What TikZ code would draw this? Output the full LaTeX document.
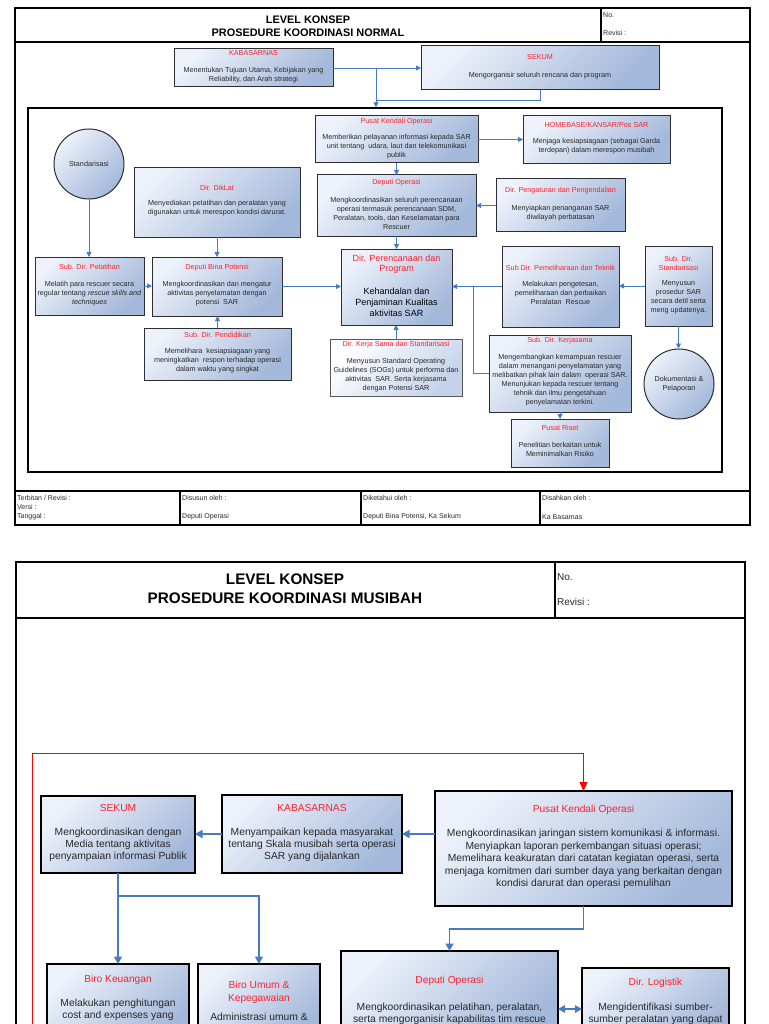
\documentclass[tikz,border=0pt]{standalone}
\usepackage{fontspec}
\setmainfont{Liberation Sans}
\usetikzlibrary{arrows.meta,calc}
\definecolor{boxL}{RGB}{236,241,250}
\definecolor{boxR}{RGB}{163,184,218}
\definecolor{boxline}{RGB}{45,45,50}
\definecolor{arrblue}{RGB}{72,122,196}
\definecolor{titred}{RGB}{250,35,45}
\definecolor{orng}{RGB}{255,153,0}
\definecolor{txt}{RGB}{40,40,40}
\newcommand{\fsz}[2]{\fontsize{#1}{#2}\selectfont}
% \mkbox[options]{name}{x1}{y1}{x2}{y2}
\newcommand{\mkbox}[6][]{\node[box,#1,minimum width={#5-#3},minimum height={#6-#4}] (#2) at ({(#3+#5)/2},{(#4+#6)/2}) {};}
\tikzset{
  frame/.style={draw=black, line width=1.6pt},
  frametwo/.style={draw=black, line width=2pt},
  box/.style={draw=boxline, line width=1pt, top color=boxL, bottom color=boxR, shading angle=45, inner sep=0pt, outer sep=0pt, rectangle},
  lightbox/.style={draw=boxline!80, line width=0.7pt, top color=white, bottom color={rgb,255:red,196;green,210;blue,234}, shading angle=45},
  orangebox/.style={fill=orng, draw=boxline, line width=1pt},
  boxtwo/.style={draw=black, line width=2pt},
  circ/.style={circle, draw=boxline, line width=1pt, top color=boxL, bottom color=boxR, shading angle=45, minimum size=70pt, inner sep=0pt, align=center, font=\fsz{7.2}{9}, text=txt},
  ttl/.style={text=titred, font=\fsz{7.2}{9}, align=center, inner sep=0pt},
  bod/.style={text=txt, font=\fsz{7.2}{9}, align=center, inner sep=0pt},
  ttltwo/.style={text=titred, font=\fsz{10.2}{13}, align=center, inner sep=0pt},
  bodtwo/.style={text=txt, font=\fsz{10.3}{12}, align=center, inner sep=0pt},
  head/.style={font=\bfseries\fsz{10.9}{13}, inner sep=0pt},
  headtwo/.style={font=\bfseries\fsz{15.3}{19}, inner sep=0pt},
  small/.style={font=\fsz{7}{9}, text=txt, inner sep=0pt, anchor=west},
  ln/.style={draw=arrblue, line width=0.9pt},
  ar/.style={ln, -{Triangle[length=5pt,width=5pt]}},
  lntwo/.style={draw=arrblue, line width=1.4pt},
  artwo/.style={lntwo, -{Triangle[length=7.5pt,width=8pt]}},
  dartwo/.style={lntwo, {Triangle[length=7pt,width=7.5pt]}-{Triangle[length=7pt,width=7.5pt]}},
  redar/.style={draw=red, line width=1pt, -{Triangle[length=9pt,width=8pt]}}
}
\begin{document}
\begin{tikzpicture}[x=1pt,y=-1pt]
\useasboundingbox (0,0) rectangle (768,1024);
\clip (0,0) rectangle (768,1024);
\fill[white] (0,0) rectangle (768,1024);

% ================= TOP PAGE =================
\draw[frame] (15,8) rectangle (750,525);
\draw[frame] (15,42) -- (750,42);
\draw[frame] (601,8) -- (601,42);
\draw[frame] (15,491) -- (750,491);
\draw[frame] (180,491) -- (180,525);
\draw[frame] (361,491) -- (361,525);
\draw[frame] (540,491) -- (540,525);

\node[head] (h1a) at (308,19.5) {LEVEL KONSEP};
\node[head] (h1b) at (308,32.5) {PROSEDURE KOORDINASI NORMAL};
\node[small] (no1) at (603,15) {No.};
\node[small] (rev1) at (603,33.5) {Revisi :};

\node[small] (f1a) at (17,498) {Terbitan / Revisi :};
\node[small] (f1b) at (17,507) {Versi :};
\node[small] (f1c) at (17,517) {Tanggal :};
\node[small] (f2a) at (182,498) {Disusun oleh :};
\node[small] (f2b) at (182,517) {Deputi Operasi};
\node[small] (f3a) at (363,498) {Diketahui oleh :};
\node[small] (f3b) at (363,517) {Deputi Bina Potensi, Ka Sekum};
\node[small] (f4a) at (542,498) {Disahkan oleh :};
\node[small] (f4b) at (542,517) {Ka Basarnas};

\node[draw=black, line width=1.4pt, minimum width=694pt, minimum height=364pt, inner sep=0pt] (inner) at (375,290) {};

% boxes
\mkbox{kab}{174}{49}{333}{87}
\node[ttl] (kabT) at (253.5,53.5) {KABASARNAS};
\node[bod] (kabB) at (253.5,75.5) {Menentukan Tujuan Utama, Kebijakan yang\\Reliability, dan Arah strategi};

\mkbox{sek}{421}{46}{659}{90}
\node[ttl] (sekT) at (540,57) {SEKUM};
\node[bod] (sekB) at (540,76) {Mengorganisir seluruh rencana dan program};

\mkbox{pko}{315}{116}{478}{163}
\node[ttl] (pkoT) at (396.5,121.5) {Pusat Kendali Operasi};
\node[bod] (pkoB) at (396.5,146.5) {Memberikan pelayanan informasi kepada SAR\\unit tentang\ \ udara, laut dan telekomunikasi\\publik};

\mkbox{hb}{523}{116}{670}{164}
\node[ttl] (hbT) at (596.5,125) {HOMEBASE/KANSAR/Pos SAR};
\node[bod] (hbB) at (596.5,146.5) {Menjaga kesiapsiagaan (sebagai Garda\\terdepan) dalam merespon musibah};

\mkbox{dop}{317}{175}{476}{236}
\node[ttl] (dopT) at (396.5,183) {Deputi Operasi};
\node[bod] (dopB) at (396.5,213.5) {Mengkoordinasikan seluruh perencanaan\\operasi termasuk perencanaan SDM,\\Peralatan, tools, dan Keselamatan para\\Rescuer};

\mkbox{dpp}{496}{179}{625}{232}
\node[ttl] (dppT) at (560.5,191) {Dir. Pengaturan dan Pengendalian};
\node[bod] (dppB) at (560.5,213) {Menyiapkan penanganan SAR\\diwilayah perbatasan};

\mkbox[orangebox]{dpr}{341}{249}{452}{325}
\node[ttl, font=\fsz{9}{10.5}] (dprT) at (396.5,264) {Dir. Perencanaan dan\\Program};
\node[bod, font=\fsz{9}{11}, text=black] (dprB) at (396.5,302) {Kehandalan dan\\Penjaminan Kualitas\\aktivitas SAR};

\mkbox[lightbox]{dks}{330}{339}{462}{396}
\node[ttl] (dksT) at (396,345) {Dir. Kerja Sama dan Standarisasi};
\node[bod] (dksB) at (396,375.5) {Menyusun Standard Operating\\Guidelines (SOGs) untuk performa dan\\aktivitas\ \ SAR. Serta kerjasama\\dengan Potensi SAR};

\node[circ] (std) at (89,164) {Standarisasi};

\mkbox{dik}{134}{168}{300}{237}
\node[ttl] (dikT) at (217,188) {Dir. DikLat};
\node[bod] (dikB) at (217,208.5) {Menyediakan pelatihan dan peralatan yang\\digunakan untuk merespon kondisi darurat.};

\mkbox{pel}{35}{257}{144}{315}
\node[ttl] (pelT) at (89.5,267) {Sub. Dir. Pelatihan};
\node[bod] (pelB) at (89.5,294) {Melatih para rescuer secara\\regular tentang \textit{rescue skills and}\\\textit{techniques}};

\mkbox{bp}{152}{257}{282}{316}
\node[ttl] (bpT) at (217,268) {Deputi Bina Potensi};
\node[bod] (bpB) at (217,293.5) {Mengkoordinasikan dan mengatur\\aktivitas penyelamatan dengan\\potensi\ \ SAR};

\mkbox{pdd}{144}{328}{291}{380}
\node[ttl] (pddT) at (217.5,335) {Sub. Dir. Pendidikan};
\node[bod] (pddB) at (217.5,361) {Memelihara\ \ kesiapsiagaan yang\\meningkatkan\ \ respon terhadap operasi\\dalam waktu yang singkat};

\mkbox{pem}{502}{246}{619}{327}
\node[ttl] (pemT) at (560.5,268) {Sub Dir. Pemeliharaan dan Teknik};
\node[bod] (pemB) at (560.5,293) {Melakukan pengetesan,\\pemeliharaan dan perbaikan\\Peralatan\ \ Rescue};

\mkbox{sds}{645}{246}{712}{326}
\node[ttl] (sdsT) at (678.5,263.5) {Sub. Dir.\\Standarisasi};
\node[bod] (sdsB) at (678.5,297.5) {Menyusun\\prosedur SAR\\secara detil serta\\meng updatenya.};

\mkbox{ksm}{489}{335}{631}{412}
\node[ttl] (ksmT) at (560,341) {Sub. Dir. Kerjasama};
\node[bod] (ksmB) at (560,380.5) {Mengembangkan kemampuan rescuer\\dalam menangani penyelamatan yang\\melibatkan pihak lain dalam\ \ operasi SAR.\\Menunjukan kepada rescuer tentang\\tehnik dan ilmu pengetahuan\\penyelamatan terkini.};

\mkbox{ris}{511}{419}{609}{467}
\node[ttl] (risT) at (560,428) {Pusat Riset};
\node[bod] (risB) at (560,449.5) {Penelitian berkaitan untuk\\Meminimalkan Risiko};

\node[circ] (dok) at (679,384) {Dokumentasi \&\\Pelaporan};

% connectors top
\coordinate (j1) at (376,68);
\coordinate (j3) at (376,100);
\coordinate (kj) at (473,287);
\draw[ar] (kab.east) -- (sek.west);
\draw[ar] (j1) -- (j1 |- inner.north);
\draw[ln] (sek.south) |- (j3);
\draw[ar] (pko.east) -- (pko.east -| hb.west);
\draw[ar] (pko.south) -- (dop.north);
\draw[ar] (dpp.west) -- (dpp.west -| dop.east);
\draw[ar] (dop.south) -- (dpr.north);
\draw[ar] (dks.north) -- (dks.north |- dpr.south);
\draw[ar] (std.south) -- (std.south |- pel.north);
\draw[ar] (pel.east) -- (pel.east -| bp.west);
\draw[ar] (dik.south) -- (bp.north);
\draw[ar] (pdd.north) -- (pdd.north |- bp.south);
\draw[ar] (bp.east) -- (bp.east -| dpr.west);
\draw[ar] (sds.west) -- (sds.west -| pem.east);
\draw[ar] (pem.west) -- (pem.west -| dpr.east);
\draw[ln] (ksm.west) -| (kj);
\draw[ar] (ksm.south) -- (ris.north);
\draw[ar] (sds.south) -- (sds.south |- dok.north);

% ================= BOTTOM PAGE =================
\draw[frametwo] (16,1040) -- (16,562) -- (745,562) -- (745,1040);
\draw[frametwo] (16,618) -- (745,618);
\draw[frametwo] (555,562) -- (555,618);
\node[headtwo] (h2a) at (285,579) {LEVEL KONSEP};
\node[headtwo] (h2b) at (285,598) {PROSEDURE KOORDINASI MUSIBAH};
\node[small, font=\fsz{10}{12}] (no2) at (557,577) {No.};
\node[small, font=\fsz{10}{12}] (rev2) at (557,602) {Revisi :};

\mkbox[boxtwo]{sekb}{41}{796}{195}{873}
\node[ttltwo] (sekbT) at (118,808) {SEKUM};
\node[bodtwo] (sekbB) at (118,845) {Mengkoordinasikan dengan\\Media tentang aktivitas\\penyampaian informasi Publik};

\mkbox[boxtwo]{kabb}{222}{795}{402}{873}
\node[ttltwo] (kabbT) at (312,808) {KABASARNAS};
\node[bodtwo] (kabbB) at (312,845) {Menyampaikan kepada masyarakat\\tentang Skala musibah serta operasi\\SAR yang dijalankan};

\mkbox[boxtwo]{pkob}{435}{791}{732}{906}
\node[ttltwo] (pkobT) at (583.5,810) {Pusat Kendali Operasi};
\node[bodtwo, font=\fsz{10.3}{12.5}] (pkobB) at (583.5,859) {Mengkoordinasikan jaringan sistem komunikasi \& informasi.\\Menyiapkan laporan perkembangan situasi operasi;\\Memelihara keakuratan dari catatan kegiatan operasi, serta\\menjaga komitmen dari sumber daya yang berkaitan dengan\\kondisi darurat dan operasi pemulihan};

\mkbox[boxtwo]{bk}{47}{964}{189}{1040}
\node[ttltwo] (bkT) at (118,980) {Biro Keuangan};
\node[bodtwo] (bkB) at (118,1010) {Melakukan penghitungan\\cost and expenses yang};

\mkbox[boxtwo]{bu}{198}{964}{320}{1040}
\node[ttltwo] (buT) at (259,992.5) {Biro Umum \&\\Kepegawaian};
\node[bodtwo] (buB) at (259,1016.5) {Administrasi umum \&};

\mkbox[boxtwo]{dopb}{341}{951}{558}{1040}
\node[ttltwo] (dopbT) at (449.5,981) {Deputi Operasi};
\node[bodtwo] (dopbB) at (449.5,1014) {Mengkoordinasikan pelatihan, peralatan,\\serta mengorganisir kapabilitas tim rescue};

\mkbox[boxtwo]{log}{582}{968}{729}{1040}
\node[ttltwo] (logT) at (655.5,983) {Dir. Logistik};
\node[bodtwo] (logB) at (655.5,1014) {Mengidentifikasi sumber-\\sumber peralatan yang dapat};

% connectors bottom
\coordinate (rs) at (32,1040);
\coordinate (rt) at (32,753);
\draw[redar] (rs) -- (rt) -| (pkob.north);
\draw[artwo] (pkob.west |- kabb.east) -- (kabb.east);
\draw[artwo] (kabb.west) -- (kabb.west -| sekb.east);
\coordinate (sj) at (118,896);
\draw[artwo] (sekb.south) -- (bk.north);
\draw[artwo] (sj) -| (bu.north);
\coordinate (pj) at (583.5,929);
\draw[artwo] (pkob.south) -- (pj) -| (dopb.north);
\coordinate (dl) at (570,1009);
\draw[dartwo] (dl -| dopb.east) -- (dl -| log.west);
\end{tikzpicture}
\end{document}
